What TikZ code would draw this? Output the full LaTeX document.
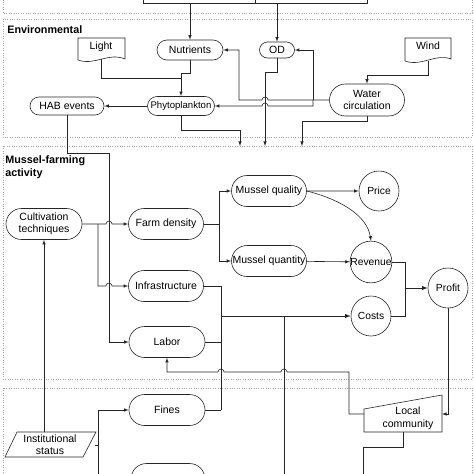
\documentclass[tikz,border=0pt]{standalone}
\usepackage{fontspec}
\setmainfont{Liberation Sans}
\usetikzlibrary{shapes.misc}

\tikzset{
  pill/.style={rounded rectangle,draw,minimum width=77pt,minimum height=31pt,inner sep=1pt,align=center,font=\fontsize{10.5}{12.5}\selectfont},
  smallpill/.style={pill,minimum height=19pt},
  roundnode/.style={circle,draw,minimum size=40pt,inner sep=0pt,font=\fontsize{10.3}{12}\selectfont},
  plain/.style={align=center,inner sep=0pt,font=\fontsize{10.5}{12.5}\selectfont},
  zone/.style={draw=black!35,dash pattern=on 1pt off 1.4pt,line width=0.7pt},
  zonelabel/.style={anchor=west,align=left,inner sep=0pt,font=\fontsize{10.8}{13}\selectfont\bfseries},
}

\begin{document}
\begin{tikzpicture}[x=1pt,y=-1pt,>=latex,line width=0.6pt,draw=black!85]
\useasboundingbox (0,0) rectangle (474,474);
\clip (0,0) rectangle (474,474);

% zones
\draw[zone] (3,-10) rectangle (472,13);
\draw[zone] (3,19) rectangle (472,137);
\draw[zone] (3,146) rectangle (472,379);
\draw[zone] (3,388) rectangle (472,490);
\node[zonelabel] (envlabel) at (7,30) {Environmental};
\node[zonelabel] (farmlabel) at (5,167) {Mussel-farming\\activity};

% top boxes (cut off)
\node[draw,minimum width=112pt,minimum height=40pt] (topa) at (199,-17) {};
\node[draw,minimum width=112pt,minimum height=40pt] (topb) at (311,-17) {};

% environmental
\node[plain] (light) at (101,47) {Light};
\draw (78,38) -- (125,38) -- (125,59) .. controls (108,52) and (95,66) .. (78,60) -- cycle;
\node[plain] (wind) at (428,46) {Wind};
\draw (405,38) -- (451,38) -- (451,59) .. controls (435,53) and (422,67) .. (405,61) -- cycle;
\node[smallpill,minimum width=68pt,minimum height=20pt] (nutrients) at (190,50) {Nutrients};
\node[smallpill,minimum width=37pt,minimum height=16pt] (od) at (277,50) {OD};
\node[smallpill,minimum width=76pt,minimum height=18pt] (hab) at (67,106) {HAB events};
\node[smallpill,minimum width=69pt,font=\fontsize{9.6}{11}\selectfont] (phyto) at (181,106) {Phytoplankton};
\node[pill,minimum width=77pt,minimum height=32pt] (water) at (367,100) {Water\\circulation};

\coordinate (inA) at (240,146);
\coordinate (inB) at (265,146);
\coordinate (inC) at (302,146);

\draw[->] (topa.south -| nutrients) -- (nutrients.north);
\draw[->] (topb.south -| od) -- (od.north);
\draw[->] (nutrients.south) -- ++(0,13) -| (phyto.north);
\draw (light.south |- 0,59) |- (181,78);
\draw[->] (phyto.west) -- (hab.east);
\draw[->] (od.south) -- ++(0,14) -| (inB);
\draw[->] (phyto.south) -- ++(0,14) -| (inA);
\draw[->] (water.south) -- ++(0,5) -| (inC);
\draw[->] (wind.south |- 0,61) -- ++(0,14) -| (water.north);
\draw[->] (water.west |- 0,100) -- (268,100) arc (0:-180:3) -- (239,100) |- (nutrients.east);
\draw[->] (313,100) |- (od.east);
\draw[->] (313,100) -- (313,106) -- (268,106) arc (0:-180:3) -- (phyto.east);

% mussel-farming activity
\node[pill,minimum width=78pt] (cultiv) at (44,224) {Cultivation\\techniques};
\node[pill] (farm) at (166,224) {Farm density};
\node[pill] (infra) at (166,286) {Infrastructure};
\node[pill,minimum width=78pt] (labor) at (167,342) {Labor};
\node[pill] (quality) at (269,191) {Mussel quality};
\node[pill] (quantity) at (269,261) {Mussel quantity};
\node[roundnode] (price) at (379,191) {Price};
\node[roundnode] (revenue) at (371,262) {Revenue};
\node[roundnode] (costs) at (371,316) {Costs};
\node[roundnode] (profit) at (448,288) {Profit};

\draw[->] (hab.south) |- (109,153) |- (labor.west);
\draw[->] (cultiv.east) -- (106,224) arc (180:360:3) -- (farm.west);
\draw[->] (98,224) |- (106,286) arc (180:360:3) -- (infra.west);
\draw[->] (farm.east) -- (219,224) |- (quality.west);
\draw[->] (219,224) |- (quantity.west);
\draw[->] (quality) -- (price);
\draw[->] (quality.east) .. controls +(32,8) and +(-4,-26) .. (revenue.north);
\draw[->] (quantity) -- (revenue);
\draw (revenue.east) -| (405,288);
\draw (costs.east) -| (405,288);
\draw[->,line width=0.9pt] (405,288) -- (profit.west);
\draw (infra.east) -| (221,410);
\draw (labor.east) -- (221,342);
\draw[->,line width=0.9pt] (221,316) -- (costs.west);
\draw (284,316) -- (284,490);

% bottom zone
\node[pill,minimum width=78pt] (fines) at (167,410) {Fines};
\node[pill,minimum width=76pt] (hidden) at (168,479) {};
\node[plain] (instit) at (50,444.5) {Institutional\\status};
\draw (17,432) -- (96,432) -- (83,457) -- (5,457) -- cycle;
\node[plain] (localc) at (408,418.5) {Local\\community};
\draw (364,409) -- (442,395) -- (442,432) -- (364,432) -- cycle;
\coordinate (localin) at (442,414);
\coordinate (localout) at (364,414);

\draw (fines.east) -- (221,410);
\draw[->] (cultiv.south |- 0,432) -- (cultiv.south);
\draw[->] (95,445) -- (98,445) |- (fines.west);
\draw (98,445) -- (98,490);
\draw[->] (profit.south) |- (localin);
\draw[->] (localout) -- (349,414) -- (349,372) -- (287,372) arc (0:-180:3) -- (224,372) arc (0:-180:3) -- (167,372) -- (labor.south);
\draw (403,432) -- (403,447) -- (363,447) -- (363,490);
\end{tikzpicture}
\end{document}
